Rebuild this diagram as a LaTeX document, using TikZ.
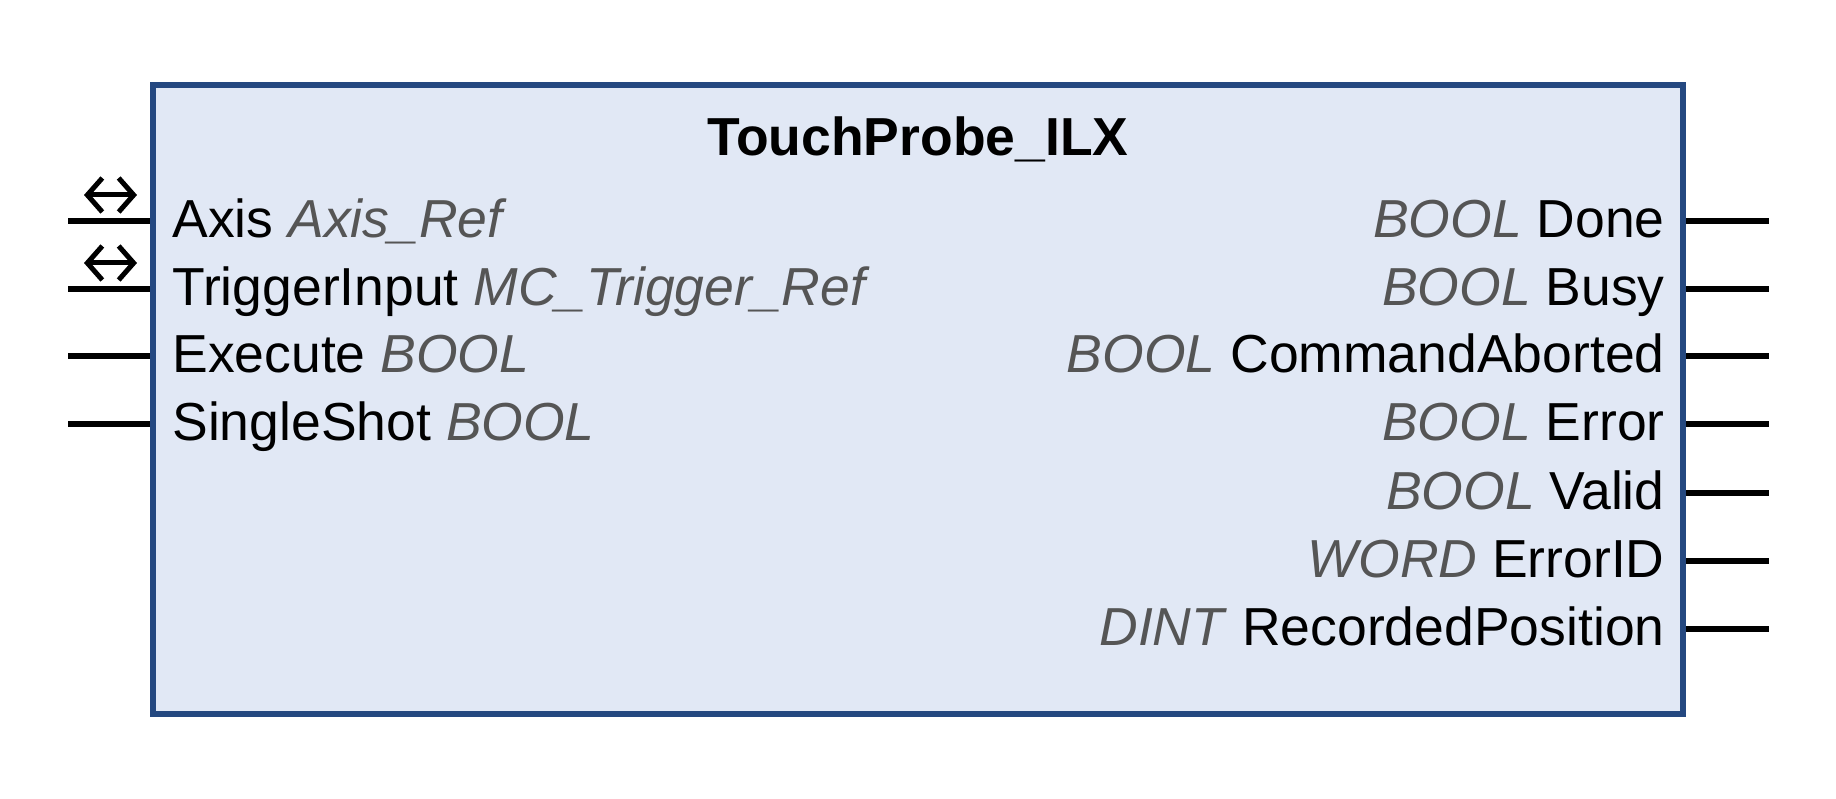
\documentclass[tikz,border=0pt]{standalone}
\usepackage{fontspec}
\setmainfont{Liberation Sans}
\usetikzlibrary{arrows.meta}
\definecolor{fbfill}{RGB}{225,232,245}
\definecolor{fbline}{RGB}{36,72,128}
\definecolor{typegray}{RGB}{85,85,85}
\newcommand{\vtype}[1]{\textcolor{typegray}{\textit{#1}}}
\tikzstyle{fbbox} = [rectangle, draw=fbline, fill=fbfill, line width=3pt, minimum width=765pt, minimum height=314.5pt, inner sep=0pt]
\tikzstyle{pin} = [line width=3pt]
\tikzstyle{inlbl} = [anchor=base west, inner sep=0pt, font=\fontsize{26.75}{32}\selectfont]
\tikzstyle{outlbl} = [anchor=base east, inner sep=0pt, font=\fontsize{26.75}{32}\selectfont]
\tikzstyle{title} = [anchor=base, inner sep=0pt, font=\fontsize{26.75}{32}\selectfont\bfseries]
\tikzstyle{inout} = [line width=2.5pt, line cap=round, line join=round, {Straight Barb[length=7.5pt,width=17pt]}-{Straight Barb[length=7.5pt,width=17pt]}]

\begin{document}
\begin{tikzpicture}[x=0.5pt, y=0.5pt]
	\useasboundingbox (0,0) rectangle (1836,798);
	\node (fb) [fbbox] at (918,398.5) {};
	\node (name) [title] at (918,642) {TouchProbe\_ILX};
	% inputs
	\coordinate (axisin) at (68,577);
	\coordinate (trigin) at (68,509);
	\coordinate (execin) at (68,442);
	\coordinate (shotin) at (68,374);
	\draw [pin] (axisin) -- (fb.west |- axisin);
	\draw [pin] (trigin) -- (fb.west |- trigin);
	\draw [pin] (execin) -- (fb.west |- execin);
	\draw [pin] (shotin) -- (fb.west |- shotin);
	\draw [inout] (axisin) ++(16,26) -- ++(53,0);
	\draw [inout] (trigin) ++(16,26) -- ++(53,0);
	\node (axis) [inlbl] at (172,560) {Axis \vtype{Axis\_Ref}};
	\node (trig) [inlbl] at (172,492) {TriggerInput \vtype{MC\_Trigger\_Ref}};
	\node (exec) [inlbl] at (172,425) {Execute \vtype{BOOL}};
	\node (shot) [inlbl] at (172,357) {SingleShot \vtype{BOOL}};
	% outputs
	\coordinate (doneout) at (1769,577);
	\coordinate (busyout) at (1769,509);
	\coordinate (abortout) at (1769,442);
	\coordinate (errout) at (1769,374);
	\coordinate (validout) at (1769,305);
	\coordinate (idout) at (1769,237);
	\coordinate (posout) at (1769,169);
	\draw [pin] (fb.east |- doneout) -- (doneout);
	\draw [pin] (fb.east |- busyout) -- (busyout);
	\draw [pin] (fb.east |- abortout) -- (abortout);
	\draw [pin] (fb.east |- errout) -- (errout);
	\draw [pin] (fb.east |- validout) -- (validout);
	\draw [pin] (fb.east |- idout) -- (idout);
	\draw [pin] (fb.east |- posout) -- (posout);
	\node (done) [outlbl] at (1665,560) {\vtype{BOOL} Done};
	\node (busy) [outlbl] at (1665,492) {\vtype{BOOL} Busy};
	\node (abort) [outlbl] at (1665,425) {\vtype{BOOL} CommandAborted};
	\node (err) [outlbl] at (1665,357) {\vtype{BOOL} Error};
	\node (valid) [outlbl] at (1665,288) {\vtype{BOOL} Valid};
	\node (errid) [outlbl] at (1665,220) {\vtype{WORD} ErrorID};
	\node (pos) [outlbl] at (1665,152) {\vtype{DINT} RecordedPosition};
\end{tikzpicture}
\end{document}
